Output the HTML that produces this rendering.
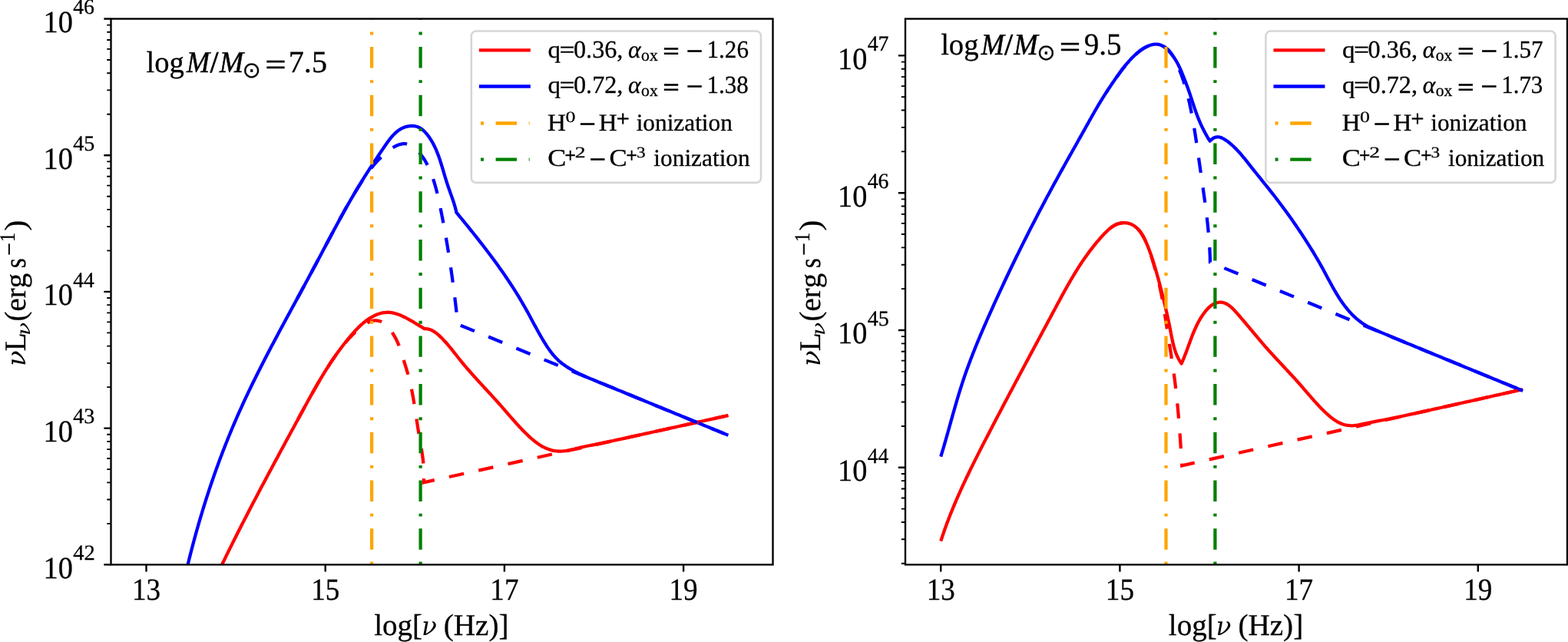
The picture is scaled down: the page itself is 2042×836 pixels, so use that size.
<!DOCTYPE html>
<html lang="en"><head><meta charset="utf-8"><title>SED models</title>
<style>
html,body{margin:0;padding:0;background:#fff;}
body{width:2042px;height:836px;overflow:hidden;}
svg{display:block;}
text{font-family:"Liberation Serif", "DejaVu Serif", serif;fill:#000;stroke:#000;stroke-width:0.3px;font-kerning:none;text-rendering:geometricPrecision;}
.it{font-style:italic;}
.nu{font-family:"DejaVu Serif","Liberation Serif",serif;font-style:italic;stroke-width:0;}
.sym{font-family:"DejaVu Sans","Liberation Sans",sans-serif;}
</style></head><body>
<svg width="2042" height="836" viewBox="0 0 2042 836">
<rect x="0" y="0" width="2042" height="836" fill="#fff"/>
<g id="panelL">
<clipPath id="clipL"><rect x="144.5" y="24.5" width="862" height="710.8"/></clipPath>
<g clip-path="url(#clipL)" fill="none" stroke-width="4.27" stroke-linejoin="round">
<path d="M282,750 L283.07,747.76 L284.14,745.51 L285.22,743.27 L286.29,741.02 L287.37,738.78 L288.46,736.54 L289.54,734.29 L290.63,732.05 L291.72,729.81 L292.82,727.57 L293.92,725.33 L295.02,723.09 L296.12,720.85 L297.22,718.61 L298.33,716.37 L299.44,714.13 L300.55,711.89 L301.67,709.65 L302.78,707.41 L303.9,705.18 L305.02,702.94 L306.15,700.7 L307.27,698.47 L308.4,696.23 L309.53,694 L310.67,691.76 L311.8,689.53 L312.94,687.3 L314.08,685.06 L315.22,682.83 L316.36,680.6 L317.5,678.37 L318.65,676.13 L319.8,673.9 L320.95,671.67 L322.1,669.44 L323.25,667.21 L324.41,664.99 L325.57,662.76 L326.73,660.53 L327.89,658.3 L329.05,656.07 L330.21,653.85 L331.38,651.62 L332.54,649.4 L333.71,647.17 L334.88,644.95 L336.05,642.72 L337.22,640.5 L338.39,638.28 L339.57,636.06 L340.74,633.83 L341.92,631.61 L343.1,629.39 L344.28,627.17 L345.46,624.95 L346.64,622.74 L347.82,620.52 L349,618.3 L350.19,616.08 L351.37,613.87 L352.56,611.65 L353.75,609.43 L354.93,607.22 L356.12,605.01 L357.31,602.79 L358.5,600.58 L359.69,598.37 L360.88,596.15 L362.07,593.94 L363.26,591.73 L364.46,589.52 L365.65,587.31 L366.84,585.1 L368.04,582.9 L369.23,580.69 L370.42,578.48 L371.62,576.27 L372.81,574.07 L374.01,571.86 L375.21,569.66 L376.4,567.46 L377.6,565.25 L378.79,563.05 L379.99,560.85 L381.18,558.65 L382.38,556.45 L383.58,554.25 L384.77,552.05 L385.97,549.85 L387.16,547.65 L388.36,545.45 L389.55,543.26 L390.75,541.06 L391.94,538.87 L393.14,536.67 L394.33,534.48 L395.52,532.29 L396.72,530.09 L397.91,527.9 L399.11,525.72 L400.31,523.53 L401.51,521.34 L402.72,519.16 L403.93,516.98 L405.14,514.8 L406.35,512.63 L407.57,510.46 L408.8,508.29 L410.03,506.12 L411.26,503.96 L412.5,501.8 L413.75,499.65 L415,497.5 L416.27,495.36 L417.54,493.21 L418.81,491.08 L420.1,488.95 L421.4,486.82 L422.7,484.7 L424.02,482.59 L425.34,480.48 L426.68,478.38 L428.02,476.28 L429.38,474.19 L430.75,472.11 L432.13,470.03 L433.53,467.96 L434.94,465.9 L436.36,463.84 L437.79,461.79 L439.24,459.75 L440.71,457.72 L442.19,455.7 L443.68,453.68 L445.19,451.68 L446.72,449.68 L448.27,447.69 L449.83,445.71 L451.41,443.74 L453.01,441.78 L454.62,439.83 L456.26,437.89 L457.91,435.96 L459.59,434.05 L461.29,432.15 L463.01,430.28 L464.76,428.44 L466.54,426.63 L468.35,424.87 L470.2,423.15 L472.08,421.48 L473.99,419.87 L475.95,418.31 L477.94,416.82 L479.98,415.41 L482.07,414.07 L484.2,412.81 L486.38,411.63 L488.61,410.56 L490.88,409.58 L493.18,408.73 L495.52,408.02 L497.89,407.45 L500.28,407.04 L502.69,406.8 L505.11,406.74 L507.54,406.88 L509.97,407.18 L512.39,407.65 L514.82,408.26 L517.24,409 L519.64,409.85 L522.03,410.81 L524.4,411.85 L526.74,412.96 L529.06,414.13 L531.36,415.35 L533.63,416.6 L535.87,417.89 L538.08,419.2 L540.27,420.51 L542.42,421.83 L544.56,423.14 L546.66,424.43 L548.73,425.69 L550.78,426.92 L552.8,428.1 L555.39,428.14 L557.84,428.52 L560.17,429.2 L562.39,430.14 L564.51,431.3 L566.55,432.65 L568.52,434.14 L570.42,435.74 L572.27,437.4 L574.08,439.1 L575.85,440.85 L577.58,442.63 L579.28,444.45 L580.95,446.3 L582.6,448.18 L584.22,450.08 L585.82,452 L587.4,453.94 L588.98,455.89 L590.54,457.86 L592.1,459.83 L593.65,461.8 L595.21,463.78 L596.77,465.76 L598.33,467.73 L599.91,469.69 L601.5,471.64 L603.1,473.58 L604.71,475.51 L606.33,477.43 L607.97,479.34 L609.61,481.25 L611.26,483.14 L612.92,485.03 L614.58,486.91 L616.25,488.79 L617.93,490.66 L619.62,492.52 L621.3,494.38 L622.99,496.23 L624.69,498.08 L626.38,499.93 L628.08,501.77 L629.78,503.61 L631.48,505.45 L633.18,507.29 L634.88,509.13 L636.57,510.97 L638.27,512.8 L639.96,514.64 L641.64,516.48 L643.33,518.32 L645,520.17 L646.67,522.01 L648.34,523.86 L650,525.72 L651.64,527.57 L653.28,529.43 L654.92,531.3 L656.54,533.17 L658.17,535.04 L659.79,536.91 L661.41,538.79 L663.03,540.66 L664.66,542.53 L666.29,544.4 L667.93,546.27 L669.57,548.13 L671.23,549.99 L672.9,551.84 L674.58,553.68 L676.28,555.52 L678,557.34 L679.74,559.16 L681.49,560.97 L683.27,562.76 L685.08,564.55 L686.91,566.32 L688.77,568.07 L690.66,569.81 L692.58,571.51 L694.54,573.17 L696.53,574.79 L698.56,576.34 L700.62,577.83 L702.73,579.24 L704.88,580.57 L707.08,581.8 L709.31,582.92 L711.58,583.94 L713.89,584.85 L716.23,585.64 L718.59,586.3 L720.97,586.84 L723.38,587.24 L725.8,587.5 L728.23,587.62 L730.67,587.6 L733.11,587.45 L735.56,587.19 L738.02,586.83 L740.48,586.39 L742.93,585.88 L745.39,585.33 L747.84,584.75 L750.3,584.14 L752.75,583.53 L755.21,582.92 L757.66,582.33 L760.11,581.77 L762.56,581.24 L765.02,580.75 L767.47,580.27 L769.92,579.8 L772.37,579.32 L774.82,578.83 L777.27,578.34 L779.72,577.85 L782.17,577.34 L784.62,576.84 L787.07,576.33 L789.52,575.82 L791.97,575.3 L794.42,574.78 L796.86,574.26 L799.31,573.74 L801.76,573.21 L804.21,572.68 L806.65,572.15 L809.1,571.62 L811.55,571.09 L813.99,570.56 L816.44,570.03 L818.88,569.49 L821.33,568.96 L823.77,568.42 L826.22,567.88 L828.66,567.34 L831.11,566.81 L833.55,566.27 L836,565.73 L838.44,565.19 L840.88,564.66 L843.33,564.12 L845.77,563.58 L848.22,563.04 L850.66,562.51 L853.1,561.97 L855.55,561.43 L857.99,560.89 L860.43,560.36 L862.88,559.82 L865.32,559.28 L867.76,558.74 L870.2,558.21 L872.65,557.67 L875.09,557.13 L877.53,556.59 L879.98,556.06 L882.42,555.52 L884.86,554.98 L887.3,554.44 L889.75,553.91 L892.19,553.37 L894.63,552.83 L897.08,552.29 L899.52,551.76 L901.96,551.22 L904.41,550.68 L906.85,550.14 L909.29,549.61 L911.74,549.07 L914.18,548.53 L916.62,547.99 L919.07,547.46 L921.51,546.92 L923.96,546.38 L926.4,545.84 L928.84,545.3 L931.29,544.77 L933.73,544.23 L936.18,543.69 L938.62,543.15 L941.07,542.61 L943.52,542.08 L945.96,541.54 L948.4,541" stroke="#ff0000" stroke-linecap="butt"/>
<path d="M237,768 L237.55,765.53 L238.09,763.06 L238.65,760.6 L239.2,758.13 L239.76,755.67 L240.33,753.21 L240.9,750.76 L241.47,748.3 L242.04,745.85 L242.62,743.4 L243.21,740.95 L243.8,738.51 L244.39,736.06 L244.98,733.62 L245.59,731.18 L246.19,728.75 L246.8,726.31 L247.41,723.88 L248.03,721.45 L248.65,719.02 L249.28,716.6 L249.91,714.17 L250.54,711.75 L251.18,709.33 L251.82,706.91 L252.47,704.5 L253.12,702.09 L253.78,699.67 L254.44,697.27 L255.1,694.86 L255.77,692.45 L256.44,690.05 L257.12,687.65 L257.81,685.25 L258.49,682.86 L259.19,680.46 L259.88,678.07 L260.58,675.68 L261.29,673.29 L262,670.9 L262.72,668.52 L263.44,666.14 L264.16,663.75 L264.89,661.38 L265.62,659 L266.36,656.62 L267.11,654.25 L267.86,651.88 L268.61,649.51 L269.37,647.14 L270.13,644.78 L270.9,642.42 L271.67,640.06 L272.45,637.7 L273.23,635.34 L274.02,632.98 L274.82,630.63 L275.61,628.28 L276.42,625.93 L277.23,623.58 L278.04,621.23 L278.86,618.89 L279.68,616.54 L280.51,614.2 L281.35,611.86 L282.19,609.53 L283.03,607.19 L283.88,604.86 L284.74,602.52 L285.6,600.19 L286.47,597.86 L287.34,595.54 L288.22,593.21 L289.1,590.89 L289.99,588.57 L290.88,586.25 L291.78,583.93 L292.68,581.61 L293.59,579.3 L294.51,576.98 L295.43,574.67 L296.36,572.36 L297.29,570.05 L298.23,567.75 L299.17,565.44 L300.12,563.14 L301.08,560.84 L302.04,558.54 L303,556.24 L303.98,553.94 L304.95,551.65 L305.94,549.35 L306.93,547.06 L307.92,544.77 L308.93,542.48 L309.93,540.19 L310.95,537.91 L311.97,535.62 L312.99,533.34 L314.02,531.06 L315.06,528.78 L316.1,526.5 L317.15,524.22 L318.2,521.94 L319.26,519.67 L320.33,517.4 L321.4,515.13 L322.47,512.86 L323.55,510.59 L324.63,508.32 L325.72,506.06 L326.82,503.79 L327.92,501.53 L329.02,499.27 L330.12,497.01 L331.24,494.75 L332.35,492.49 L333.47,490.24 L334.59,487.98 L335.72,485.73 L336.85,483.48 L337.99,481.23 L339.12,478.98 L340.26,476.73 L341.41,474.48 L342.56,472.24 L343.71,470 L344.86,467.75 L346.02,465.51 L347.18,463.27 L348.34,461.03 L349.51,458.8 L350.68,456.56 L351.85,454.32 L353.02,452.09 L354.19,449.86 L355.37,447.63 L356.55,445.4 L357.73,443.17 L358.91,440.94 L360.1,438.71 L361.29,436.49 L362.47,434.26 L363.66,432.04 L364.85,429.82 L366.05,427.6 L367.24,425.38 L368.43,423.16 L369.63,420.94 L370.82,418.73 L372.02,416.51 L373.22,414.3 L374.42,412.08 L375.62,409.87 L376.82,407.66 L378.01,405.45 L379.21,403.24 L380.41,401.04 L381.61,398.83 L382.81,396.62 L384.01,394.42 L385.21,392.22 L386.41,390.01 L387.61,387.81 L388.8,385.61 L390,383.41 L391.19,381.21 L392.39,379.01 L393.58,376.82 L394.78,374.62 L395.97,372.43 L397.16,370.23 L398.35,368.04 L399.53,365.85 L400.72,363.66 L401.9,361.47 L403.08,359.28 L404.26,357.09 L405.44,354.9 L406.62,352.72 L407.79,350.53 L408.96,348.34 L410.13,346.16 L411.3,343.98 L412.46,341.79 L413.62,339.61 L414.78,337.43 L415.94,335.25 L417.1,333.07 L418.25,330.89 L419.41,328.72 L420.56,326.54 L421.71,324.36 L422.86,322.19 L424.02,320.01 L425.17,317.84 L426.32,315.67 L427.47,313.49 L428.63,311.32 L429.78,309.15 L430.94,306.98 L432.1,304.81 L433.26,302.64 L434.42,300.47 L435.58,298.31 L436.75,296.14 L437.92,293.97 L439.09,291.81 L440.26,289.64 L441.44,287.48 L442.62,285.31 L443.81,283.15 L445,280.99 L446.19,278.83 L447.39,276.66 L448.59,274.5 L449.8,272.34 L451.02,270.18 L452.24,268.02 L453.46,265.87 L454.69,263.71 L455.93,261.55 L457.17,259.39 L458.43,257.24 L459.68,255.08 L460.95,252.92 L462.22,250.77 L463.5,248.62 L464.79,246.46 L466.08,244.31 L467.39,242.15 L468.7,240 L470.02,237.85 L471.35,235.7 L472.69,233.55 L474.04,231.4 L475.39,229.24 L476.76,227.09 L478.13,224.94 L479.51,222.79 L480.89,220.65 L482.29,218.5 L483.69,216.35 L485.09,214.2 L486.51,212.05 L487.93,209.9 L489.35,207.75 L490.78,205.61 L492.21,203.46 L493.65,201.31 L495.1,199.16 L496.54,197.01 L497.99,194.87 L499.45,192.72 L500.91,190.57 L502.38,188.43 L503.86,186.31 L505.36,184.22 L506.89,182.17 L508.45,180.18 L510.04,178.25 L511.69,176.39 L513.38,174.61 L515.14,172.94 L516.95,171.37 L518.84,169.92 L520.8,168.6 L522.84,167.42 L524.98,166.4 L527.19,165.53 L529.47,164.84 L531.79,164.34 L534.14,164.04 L536.49,163.95 L538.83,164.08 L541.14,164.44 L543.4,165.05 L545.59,165.92 L547.68,167.06 L549.68,168.46 L551.59,170.07 L553.4,171.85 L555.13,173.77 L556.76,175.77 L558.32,177.84 L559.79,179.95 L561.19,182.1 L562.52,184.29 L563.78,186.52 L564.97,188.78 L566.11,191.07 L567.19,193.39 L568.22,195.73 L569.19,198.09 L570.13,200.47 L571.02,202.86 L571.88,205.26 L572.7,207.67 L573.5,210.08 L574.27,212.49 L575.02,214.89 L575.75,217.29 L576.47,219.67 L577.18,222.05 L577.88,224.42 L578.58,226.79 L579.28,229.15 L579.99,231.51 L580.71,233.86 L581.44,236.21 L582.19,238.57 L582.96,240.92 L583.76,243.28 L584.58,245.64 L585.41,248.01 L586.26,250.37 L587.11,252.75 L587.96,255.12 L588.8,257.5 L589.62,259.89 L590.42,262.27 L591.19,264.67 L591.93,267.06 L592.63,269.47 L593.27,271.87 L593.87,274.28 L594.4,276.7 L596,278.64 L597.6,280.59 L599.2,282.53 L600.79,284.48 L602.38,286.42 L603.98,288.37 L605.57,290.32 L607.15,292.27 L608.74,294.22 L610.32,296.17 L611.9,298.12 L613.47,300.08 L615.04,302.04 L616.61,304 L618.18,305.96 L619.74,307.92 L621.3,309.89 L622.85,311.86 L624.4,313.83 L625.95,315.81 L627.49,317.78 L629.03,319.76 L630.56,321.75 L632.09,323.74 L633.61,325.73 L635.13,327.72 L636.64,329.72 L638.15,331.72 L639.65,333.73 L641.15,335.73 L642.64,337.75 L644.12,339.77 L645.6,341.79 L647.07,343.81 L648.54,345.85 L650,347.88 L651.45,349.92 L652.89,351.97 L654.33,354.02 L655.76,356.08 L657.19,358.14 L658.6,360.21 L660.01,362.28 L661.41,364.36 L662.8,366.44 L664.19,368.53 L665.56,370.63 L666.93,372.73 L668.29,374.84 L669.64,376.96 L670.98,379.08 L672.32,381.21 L673.64,383.34 L674.96,385.48 L676.26,387.63 L677.56,389.79 L678.84,391.96 L680.12,394.13 L681.38,396.31 L682.64,398.49 L683.88,400.69 L685.12,402.89 L686.34,405.1 L687.56,407.32 L688.77,409.54 L689.98,411.76 L691.18,413.99 L692.37,416.22 L693.57,418.45 L694.77,420.68 L695.96,422.9 L697.17,425.12 L698.37,427.34 L699.58,429.55 L700.8,431.75 L702.03,433.95 L703.26,436.13 L704.51,438.3 L705.77,440.47 L707.05,442.62 L708.34,444.75 L709.65,446.87 L710.97,448.97 L712.32,451.05 L713.69,453.11 L715.1,455.14 L716.54,457.15 L718.03,459.12 L719.56,461.05 L721.14,462.95 L722.78,464.8 L724.48,466.6 L726.25,468.36 L728.09,470.06 L730.01,471.71 L732,473.29 L734.04,474.83 L736.13,476.31 L738.27,477.73 L740.43,479.1 L742.61,480.42 L744.8,481.68 L747,482.9 L749.22,484.08 L751.45,485.22 L753.69,486.32 L755.94,487.39 L758.19,488.44 L760.46,489.46 L762.74,490.46 L765.02,491.44 L767.31,492.41 L769.6,493.38 L771.91,494.33 L774.21,495.29 L776.52,496.24 L778.84,497.2 L781.16,498.15 L783.48,499.11 L785.8,500.06 L788.13,501.01 L790.46,501.96 L792.79,502.91 L795.11,503.87 L797.44,504.82 L799.77,505.77 L802.09,506.73 L804.42,507.68 L806.74,508.63 L809.06,509.59 L811.39,510.54 L813.71,511.49 L816.03,512.45 L818.35,513.4 L820.67,514.35 L822.99,515.31 L825.32,516.26 L827.64,517.22 L829.96,518.17 L832.28,519.12 L834.6,520.08 L836.92,521.03 L839.24,521.98 L841.56,522.94 L843.88,523.89 L846.21,524.85 L848.53,525.8 L850.85,526.75 L853.17,527.71 L855.49,528.66 L857.82,529.61 L860.14,530.57 L862.46,531.52 L864.78,532.47 L867.11,533.43 L869.43,534.38 L871.75,535.34 L874.08,536.29 L876.4,537.24 L878.72,538.2 L881.04,539.15 L883.37,540.1 L885.69,541.06 L888.01,542.01 L890.34,542.96 L892.66,543.92 L894.98,544.87 L897.31,545.82 L899.63,546.78 L901.95,547.73 L904.27,548.68 L906.6,549.64 L908.92,550.59 L911.24,551.54 L913.57,552.5 L915.89,553.45 L918.21,554.4 L920.53,555.36 L922.86,556.31 L925.18,557.26 L927.5,558.22 L929.82,559.17 L932.15,560.12 L934.47,561.08 L936.79,562.03 L939.11,562.99 L941.43,563.94 L943.75,564.89 L946.08,565.85 L948.4,566.8" stroke="#0000ff" stroke-linecap="butt"/>
<path d="M381.18,558.65 L382.38,556.45 L383.58,554.25 L384.78,552.05 L385.98,549.85 L387.18,547.65 L388.37,545.45 L389.56,543.25 L390.76,541.05 L391.95,538.84 L393.15,536.64 L394.35,534.44 L395.54,532.24 L396.74,530.03 L397.95,527.83 L399.15,525.64 L400.36,523.44 L401.56,521.24 L402.78,519.05 L403.99,516.86 L405.21,514.67 L406.44,512.48 L407.66,510.3 L408.9,508.11 L410.13,505.94 L411.38,503.76 L412.63,501.59 L413.88,499.43 L415.15,497.26 L416.42,495.11 L417.69,492.95 L418.98,490.8 L420.28,488.66 L421.58,486.52 L422.89,484.39 L424.22,482.27 L425.55,480.14 L426.9,478.03 L428.25,475.92 L429.62,473.82 L431,471.73 L432.39,469.64 L433.8,467.56 L435.22,465.49 L436.66,463.43 L438.1,461.38 L439.57,459.33 L441.05,457.3 L442.56,455.29 L444.08,453.29 L445.62,451.3 L447.19,449.34 L448.78,447.39 L450.4,445.47 L452.04,443.57 L453.7,441.69 L455.4,439.84 L457.12,438.02 L458.88,436.22 L460.67,434.46 L462.49,432.72 L464.34,431.02 L466.23,429.35 L468.16,427.72 L470.12,426.13 L472.12,424.58 L474.16,423.08 L476.25,421.69 L478.39,420.42 L480.57,419.33 L482.81,418.45 L485.11,417.8 L487.47,417.44 L489.89,417.39 L492.31,417.66 L494.68,418.24 L496.95,419.12 L499.08,420.29 L501.09,421.71 L502.98,423.34 L504.76,425.15 L506.45,427.1 L508.05,429.15 L509.57,431.28 L511.02,433.44 L512.39,435.62 L513.7,437.83 L514.94,440.05 L516.12,442.3 L517.22,444.56 L518.26,446.84 L519.22,449.14 L520.13,451.46 L520.97,453.79 L521.77,456.13 L522.53,458.49 L523.27,460.85 L523.99,463.23 L524.7,465.62 L525.43,468.02 L526.17,470.43 L526.91,472.84 L527.67,475.26 L528.42,477.69 L529.17,480.12 L529.91,482.55 L530.62,484.99 L531.32,487.43 L531.99,489.87 L532.63,492.31 L533.25,494.75 L533.84,497.19 L534.41,499.63 L534.96,502.07 L535.48,504.52 L535.99,506.96 L536.48,509.41 L536.96,511.85 L537.42,514.3 L537.86,516.75 L538.3,519.2 L538.72,521.65 L539.13,524.1 L539.53,526.56 L539.92,529.01 L540.3,531.47 L540.68,533.92 L541.06,536.38 L541.43,538.84 L541.8,541.3 L542.17,543.76 L542.54,546.22 L542.91,548.69 L543.29,551.15 L543.67,553.62 L544.05,556.09 L544.44,558.56 L544.84,561.03 L545.24,563.5 L545.66,565.97 L546.09,568.45 L546.51,570.92 L546.94,573.4 L547.37,575.88 L547.8,578.36 L548.22,580.84 L548.64,583.32 L549.04,585.81 L549.43,588.29 L549.8,590.78 L550.16,593.27 L550.49,595.76 L550.8,598.26 L551.08,600.75 L551.33,603.25 L551.56,605.74 L551.74,608.24 L551.89,610.74 L552.01,613.25 L552.08,615.75 L552.1,618.26 L552.08,620.77 L552,623.28 L551.88,625.79 L551.7,628.3 L948.4,541" stroke="#ff0000" stroke-dasharray="19.6 19.6" stroke-dashoffset="25.48" stroke-linecap="butt" stroke-linejoin="miter"/>
<path d="M380.41,401.04 L381.61,398.83 L382.81,396.63 L384.01,394.43 L385.2,392.23 L386.4,390.03 L387.6,387.82 L388.8,385.62 L390,383.41 L391.2,381.21 L392.4,379 L393.6,376.8 L394.79,374.59 L395.99,372.39 L397.19,370.18 L398.38,367.97 L399.58,365.77 L400.77,363.56 L401.96,361.35 L403.16,359.14 L404.35,356.93 L405.54,354.72 L406.72,352.51 L407.91,350.3 L409.09,348.09 L410.28,345.88 L411.46,343.67 L412.64,341.45 L413.81,339.24 L414.99,337.03 L416.17,334.82 L417.34,332.6 L418.52,330.39 L419.69,328.17 L420.87,325.96 L422.04,323.75 L423.22,321.53 L424.39,319.32 L425.57,317.1 L426.74,314.89 L427.92,312.67 L429.1,310.45 L430.28,308.24 L431.46,306.02 L432.64,303.8 L433.82,301.59 L435.01,299.37 L436.2,297.15 L437.39,294.93 L438.58,292.72 L439.77,290.5 L440.97,288.28 L442.17,286.07 L443.38,283.85 L444.58,281.64 L445.8,279.43 L447.01,277.23 L448.23,275.03 L449.45,272.83 L450.68,270.64 L451.92,268.45 L453.15,266.27 L454.4,264.09 L455.65,261.92 L456.9,259.75 L458.16,257.6 L459.43,255.45 L460.7,253.31 L461.98,251.17 L463.26,249.05 L464.55,246.93 L465.85,244.83 L467.16,242.73 L468.47,240.65 L469.8,238.57 L471.13,236.51 L472.47,234.46 L473.82,232.42 L475.19,230.4 L476.57,228.39 L477.98,226.39 L479.41,224.41 L480.86,222.44 L482.35,220.48 L483.86,218.55 L485.41,216.62 L486.99,214.72 L488.61,212.83 L490.28,210.95 L491.98,209.1 L493.74,207.26 L495.54,205.45 L497.39,203.65 L499.3,201.87 L501.27,200.11 L503.29,198.38 L505.36,196.69 L507.47,195.08 L509.62,193.55 L511.81,192.14 L514.01,190.86 L516.23,189.74 L518.46,188.8 L520.7,188.05 L522.93,187.52 L525.15,187.24 L527.36,187.22 L529.54,187.48 L531.69,188.04 L533.8,188.87 L535.86,189.94 L537.88,191.22 L539.85,192.7 L541.76,194.34 L543.6,196.12 L545.37,198 L547.06,199.98 L548.68,202.01 L550.22,204.11 L551.69,206.27 L553.09,208.47 L554.42,210.73 L555.69,213.02 L556.9,215.35 L558.04,217.71 L559.13,220.1 L560.17,222.52 L561.15,224.95 L562.09,227.39 L562.98,229.84 L563.83,232.3 L564.64,234.76 L565.42,237.21 L566.15,239.65 L566.86,242.1 L567.54,244.53 L568.19,246.97 L568.81,249.4 L569.41,251.82 L569.99,254.25 L570.55,256.67 L571.09,259.09 L571.61,261.51 L572.13,263.92 L572.63,266.34 L573.13,268.76 L573.62,271.17 L574.1,273.59 L574.59,276.01 L575.07,278.43 L575.54,280.86 L576.02,283.28 L576.49,285.71 L576.95,288.14 L577.41,290.58 L577.87,293.02 L578.32,295.46 L578.77,297.91 L579.22,300.36 L579.66,302.82 L580.09,305.28 L580.53,307.74 L580.96,310.2 L581.38,312.67 L581.8,315.14 L582.22,317.61 L582.63,320.09 L583.04,322.57 L583.44,325.05 L583.84,327.53 L584.24,330.02 L584.63,332.51 L585.02,334.99 L585.41,337.49 L585.79,339.98 L586.16,342.47 L586.54,344.97 L586.91,347.46 L587.27,349.96 L587.63,352.46 L587.99,354.96 L588.34,357.45 L588.69,359.95 L589.04,362.45 L589.38,364.95 L589.72,367.45 L590.05,369.95 L590.38,372.45 L590.71,374.95 L591.03,377.45 L591.35,379.95 L591.67,382.45 L591.98,384.95 L592.29,387.44 L592.59,389.94 L592.89,392.43 L593.19,394.92 L593.48,397.41 L593.77,399.9 L594.05,402.39 L594.33,404.87 L594.61,407.36 L594.89,409.84 L595.16,412.31 L595.42,414.79 L595.69,417.26 L595.94,419.73 L596.2,422.2 L948.4,566.8" stroke="#0000ff" stroke-dasharray="19.6 19.6" stroke-dashoffset="26.12" stroke-linecap="butt" stroke-linejoin="miter"/>
<path d="M484.1,735.3 L484.1,24.5" stroke="#ffa500" stroke-dasharray="3.92 15.68 27.44 15.68" stroke-linecap="butt"/>
<path d="M547.6,735.3 L547.6,24.5" stroke="#008000" stroke-dasharray="3.92 15.68 27.44 15.68" stroke-linecap="butt"/>
</g>
<path d="M190.5,735.3 v9.15 M423.7,735.3 v9.15 M656.9,735.3 v9.15 M890.1,735.3 v9.15" stroke="#000" stroke-width="2.39" fill="none"/>
<path d="M144.5,735.3 h-9.15 M144.5,557.6 h-9.15 M144.5,379.9 h-9.15 M144.5,202.2 h-9.15 M144.5,24.5 h-9.15" stroke="#000" stroke-width="2.39" fill="none"/>
<path d="M144.5,681.81 h-5.23 M144.5,650.52 h-5.23 M144.5,628.31 h-5.23 M144.5,611.09 h-5.23 M144.5,597.02 h-5.23 M144.5,585.13 h-5.23 M144.5,574.82 h-5.23 M144.5,565.73 h-5.23 M144.5,504.11 h-5.23 M144.5,472.82 h-5.23 M144.5,450.61 h-5.23 M144.5,433.39 h-5.23 M144.5,419.32 h-5.23 M144.5,407.43 h-5.23 M144.5,397.12 h-5.23 M144.5,388.03 h-5.23 M144.5,326.41 h-5.23 M144.5,295.12 h-5.23 M144.5,272.91 h-5.23 M144.5,255.69 h-5.23 M144.5,241.62 h-5.23 M144.5,229.73 h-5.23 M144.5,219.42 h-5.23 M144.5,210.33 h-5.23 M144.5,148.71 h-5.23 M144.5,117.42 h-5.23 M144.5,95.21 h-5.23 M144.5,77.99 h-5.23 M144.5,63.92 h-5.23 M144.5,52.03 h-5.23 M144.5,41.72 h-5.23 M144.5,32.63 h-5.23" stroke="#000" stroke-width="1.87" fill="none"/>
<rect x="144.5" y="24.5" width="862" height="710.8" fill="none" stroke="#000" stroke-width="2.39" stroke-linejoin="miter"/>
</g>
<g id="panelR">
<clipPath id="clipR"><rect x="1179" y="24.5" width="862" height="710.8"/></clipPath>
<g clip-path="url(#clipR)" fill="none" stroke-width="4.27" stroke-linejoin="round">
<path d="M1225.2,704.7 L1225.95,702.35 L1226.72,700 L1227.5,697.66 L1228.29,695.31 L1229.09,692.97 L1229.91,690.63 L1230.73,688.3 L1231.57,685.97 L1232.42,683.63 L1233.28,681.31 L1234.16,678.98 L1235.04,676.66 L1235.93,674.33 L1236.84,672.01 L1237.75,669.7 L1238.67,667.38 L1239.61,665.07 L1240.55,662.76 L1241.5,660.45 L1242.47,658.14 L1243.44,655.84 L1244.42,653.54 L1245.41,651.24 L1246.4,648.94 L1247.41,646.64 L1248.42,644.35 L1249.44,642.06 L1250.47,639.77 L1251.5,637.48 L1252.54,635.19 L1253.59,632.91 L1254.65,630.63 L1255.71,628.35 L1256.78,626.07 L1257.85,623.79 L1258.93,621.52 L1260.02,619.24 L1261.11,616.97 L1262.21,614.7 L1263.31,612.43 L1264.41,610.17 L1265.53,607.9 L1266.64,605.64 L1267.76,603.38 L1268.88,601.12 L1270.01,598.86 L1271.14,596.6 L1272.28,594.35 L1273.41,592.09 L1274.55,589.84 L1275.7,587.59 L1276.84,585.34 L1277.99,583.09 L1279.14,580.85 L1280.29,578.6 L1281.44,576.36 L1282.6,574.12 L1283.75,571.87 L1284.91,569.64 L1286.07,567.4 L1287.23,565.16 L1288.39,562.92 L1289.55,560.69 L1290.71,558.46 L1291.87,556.22 L1293.03,553.99 L1294.19,551.76 L1295.36,549.54 L1296.52,547.31 L1297.69,545.08 L1298.85,542.86 L1300.02,540.63 L1301.18,538.41 L1302.35,536.19 L1303.52,533.97 L1304.68,531.74 L1305.85,529.53 L1307.02,527.31 L1308.19,525.09 L1309.36,522.87 L1310.53,520.66 L1311.7,518.44 L1312.87,516.23 L1314.05,514.01 L1315.22,511.8 L1316.39,509.59 L1317.56,507.38 L1318.74,505.17 L1319.91,502.96 L1321.08,500.75 L1322.26,498.54 L1323.43,496.33 L1324.61,494.13 L1325.78,491.92 L1326.96,489.71 L1328.13,487.51 L1329.31,485.3 L1330.49,483.1 L1331.66,480.9 L1332.84,478.69 L1334.02,476.49 L1335.2,474.29 L1336.37,472.08 L1337.55,469.88 L1338.73,467.68 L1339.91,465.48 L1341.08,463.28 L1342.26,461.08 L1343.44,458.88 L1344.62,456.68 L1345.8,454.48 L1346.98,452.28 L1348.16,450.08 L1349.34,447.88 L1350.52,445.68 L1351.7,443.48 L1352.87,441.28 L1354.05,439.09 L1355.23,436.89 L1356.41,434.69 L1357.59,432.49 L1358.77,430.29 L1359.95,428.09 L1361.13,425.9 L1362.31,423.7 L1363.49,421.5 L1364.67,419.3 L1365.85,417.1 L1367.03,414.9 L1368.2,412.7 L1369.38,410.5 L1370.56,408.3 L1371.74,406.1 L1372.92,403.9 L1374.1,401.7 L1375.27,399.5 L1376.45,397.3 L1377.63,395.1 L1378.82,392.9 L1380,390.71 L1381.19,388.51 L1382.38,386.32 L1383.57,384.13 L1384.77,381.94 L1385.98,379.75 L1387.19,377.57 L1388.41,375.38 L1389.63,373.21 L1390.86,371.04 L1392.1,368.87 L1393.34,366.7 L1394.6,364.54 L1395.86,362.39 L1397.14,360.24 L1398.42,358.1 L1399.72,355.96 L1401.03,353.83 L1402.35,351.7 L1403.68,349.59 L1405.02,347.48 L1406.38,345.38 L1407.75,343.28 L1409.14,341.19 L1410.54,339.12 L1411.96,337.05 L1413.39,334.99 L1414.85,332.94 L1416.31,330.9 L1417.8,328.87 L1419.31,326.85 L1420.83,324.84 L1422.37,322.84 L1423.94,320.85 L1425.52,318.87 L1427.12,316.91 L1428.75,314.95 L1430.4,313.01 L1432.07,311.09 L1433.77,309.17 L1435.48,307.27 L1437.23,305.38 L1439,303.52 L1440.8,301.7 L1442.64,299.94 L1444.53,298.27 L1446.47,296.7 L1448.47,295.25 L1450.53,293.94 L1452.65,292.79 L1454.86,291.82 L1457.14,291.06 L1459.51,290.51 L1461.93,290.19 L1464.38,290.11 L1466.83,290.28 L1469.24,290.69 L1471.59,291.36 L1473.84,292.29 L1475.98,293.46 L1478.03,294.85 L1479.96,296.43 L1481.79,298.17 L1483.5,300.06 L1485.1,302.07 L1486.58,304.17 L1487.94,306.35 L1489.2,308.59 L1490.38,310.86 L1491.49,313.17 L1492.55,315.49 L1493.56,317.81 L1494.53,320.14 L1495.47,322.46 L1496.37,324.8 L1497.25,327.14 L1498.09,329.48 L1498.91,331.82 L1499.71,334.18 L1500.49,336.54 L1501.26,338.9 L1502.01,341.27 L1502.76,343.65 L1503.49,346.04 L1504.21,348.43 L1504.92,350.83 L1505.62,353.23 L1506.31,355.64 L1507,358.05 L1507.67,360.46 L1508.34,362.88 L1509,365.3 L1509.65,367.72 L1510.3,370.15 L1510.93,372.57 L1511.56,375 L1512.19,377.43 L1512.81,379.86 L1513.42,382.29 L1514.03,384.72 L1514.64,387.15 L1515.24,389.57 L1515.83,392 L1516.42,394.43 L1517,396.86 L1517.57,399.29 L1518.14,401.73 L1518.7,404.16 L1519.26,406.6 L1519.81,409.04 L1520.35,411.48 L1520.88,413.92 L1521.41,416.37 L1521.92,418.82 L1522.43,421.27 L1522.94,423.73 L1523.43,426.19 L1523.92,428.66 L1524.39,431.13 L1524.86,433.6 L1525.34,436.07 L1525.82,438.55 L1526.31,441.01 L1526.83,443.47 L1527.38,445.92 L1527.96,448.36 L1528.58,450.78 L1529.25,453.18 L1529.98,455.56 L1530.77,457.91 L1531.63,460.24 L1532.56,462.54 L1533.58,464.81 L1534.68,467.04 L1535.88,469.24 L1537.19,471.39 L1538.6,473.5 L1539.62,471.24 L1540.6,468.96 L1541.55,466.67 L1542.48,464.37 L1543.39,462.05 L1544.28,459.73 L1545.15,457.4 L1546.02,455.06 L1546.87,452.71 L1547.73,450.36 L1548.58,448.01 L1549.44,445.65 L1550.31,443.3 L1551.19,440.95 L1552.08,438.6 L1552.99,436.26 L1553.93,433.92 L1554.89,431.6 L1555.88,429.3 L1556.9,427.01 L1557.96,424.73 L1559.06,422.48 L1560.21,420.25 L1561.4,418.04 L1562.64,415.87 L1563.94,413.72 L1565.3,411.6 L1566.72,409.52 L1568.21,407.47 L1569.77,405.46 L1571.4,403.5 L1573.12,401.62 L1574.93,399.86 L1576.85,398.25 L1578.89,396.82 L1581.05,395.62 L1583.35,394.66 L1585.77,394 L1588.22,393.67 L1590.62,393.69 L1592.92,394.06 L1595.13,394.74 L1597.27,395.71 L1599.33,396.92 L1601.32,398.34 L1603.26,399.94 L1605.14,401.68 L1606.97,403.53 L1608.77,405.46 L1610.53,407.43 L1612.27,409.41 L1613.99,411.38 L1615.69,413.34 L1617.37,415.29 L1619.03,417.24 L1620.68,419.18 L1622.31,421.11 L1623.93,423.03 L1625.54,424.95 L1627.14,426.87 L1628.74,428.77 L1630.32,430.67 L1631.91,432.57 L1633.49,434.46 L1635.06,436.35 L1636.64,438.23 L1638.22,440.11 L1639.8,441.98 L1641.39,443.85 L1642.98,445.72 L1644.58,447.58 L1646.18,449.44 L1647.8,451.3 L1649.43,453.16 L1651.08,455.01 L1652.73,456.86 L1654.4,458.71 L1656.08,460.56 L1657.77,462.4 L1659.46,464.25 L1661.17,466.1 L1662.88,467.94 L1664.6,469.79 L1666.32,471.63 L1668.04,473.48 L1669.77,475.32 L1671.5,477.17 L1673.23,479.02 L1674.96,480.87 L1676.69,482.72 L1678.41,484.57 L1680.13,486.43 L1681.85,488.29 L1683.56,490.15 L1685.26,492.01 L1686.96,493.88 L1688.65,495.75 L1690.32,497.62 L1691.99,499.5 L1693.64,501.38 L1695.29,503.27 L1696.92,505.16 L1698.55,507.05 L1700.18,508.93 L1701.8,510.82 L1703.42,512.71 L1705.05,514.59 L1706.68,516.47 L1708.31,518.34 L1709.95,520.2 L1711.61,522.06 L1713.27,523.9 L1714.95,525.74 L1716.65,527.56 L1718.36,529.37 L1720.1,531.17 L1721.86,532.95 L1723.64,534.71 L1725.45,536.46 L1727.29,538.19 L1729.16,539.9 L1731.06,541.58 L1733.01,543.21 L1735,544.78 L1737.04,546.28 L1739.14,547.7 L1741.31,549.01 L1743.54,550.21 L1745.84,551.27 L1748.21,552.2 L1750.61,552.97 L1753.04,553.56 L1755.47,553.98 L1757.91,554.23 L1760.34,554.31 L1762.79,554.23 L1765.23,553.99 L1767.68,553.6 L1770.14,553.11 L1772.59,552.56 L1775.05,552.01 L1777.51,551.49 L1779.97,550.98 L1782.43,550.49 L1784.89,550.01 L1787.36,549.54 L1789.82,549.08 L1792.28,548.62 L1794.75,548.16 L1797.21,547.7 L1799.67,547.24 L1802.13,546.77 L1804.59,546.3 L1807.04,545.82 L1809.5,545.33 L1811.96,544.84 L1814.41,544.34 L1816.86,543.83 L1819.31,543.33 L1821.76,542.81 L1824.21,542.3 L1826.66,541.78 L1829.11,541.25 L1831.56,540.73 L1834.01,540.2 L1836.45,539.66 L1838.9,539.13 L1841.35,538.59 L1843.79,538.06 L1846.24,537.52 L1848.68,536.98 L1851.13,536.44 L1853.57,535.9 L1856.02,535.36 L1858.46,534.82 L1860.91,534.28 L1863.35,533.74 L1865.8,533.2 L1868.24,532.66 L1870.69,532.11 L1873.13,531.57 L1875.58,531.03 L1878.02,530.48 L1880.47,529.94 L1882.91,529.4 L1885.35,528.85 L1887.8,528.31 L1890.24,527.76 L1892.69,527.22 L1895.13,526.67 L1897.57,526.13 L1900.02,525.58 L1902.46,525.04 L1904.9,524.49 L1907.35,523.95 L1909.79,523.4 L1912.24,522.85 L1914.68,522.31 L1917.12,521.76 L1919.57,521.21 L1922.01,520.67 L1924.45,520.12 L1926.9,519.57 L1929.34,519.03 L1931.78,518.48 L1934.23,517.93 L1936.67,517.38 L1939.11,516.84 L1941.56,516.29 L1944,515.74 L1946.45,515.2 L1948.89,514.65 L1951.33,514.1 L1953.78,513.55 L1956.22,513.01 L1958.66,512.46 L1961.11,511.91 L1963.55,511.37 L1965.99,510.82 L1968.44,510.28 L1970.88,509.73 L1973.33,509.18 L1975.77,508.64 L1978.21,508.09 L1980.66,507.55 L1983.1,507" stroke="#ff0000" stroke-linecap="butt"/>
<path d="M1225.2,594.6 L1225.95,592.13 L1226.7,589.66 L1227.44,587.2 L1228.17,584.74 L1228.89,582.28 L1229.61,579.82 L1230.32,577.37 L1231.02,574.92 L1231.73,572.47 L1232.42,570.03 L1233.12,567.59 L1233.8,565.15 L1234.49,562.72 L1235.17,560.29 L1235.85,557.86 L1236.53,555.44 L1237.21,553.01 L1237.89,550.59 L1238.56,548.18 L1239.24,545.76 L1239.92,543.35 L1240.59,540.94 L1241.27,538.54 L1241.95,536.14 L1242.64,533.74 L1243.32,531.34 L1244.01,528.94 L1244.7,526.55 L1245.4,524.16 L1246.1,521.77 L1246.8,519.39 L1247.51,517.01 L1248.23,514.63 L1248.95,512.25 L1249.68,509.88 L1250.41,507.51 L1251.16,505.14 L1251.91,502.77 L1252.67,500.41 L1253.44,498.05 L1254.21,495.69 L1255,493.33 L1255.8,490.97 L1256.61,488.62 L1257.42,486.27 L1258.25,483.93 L1259.09,481.58 L1259.93,479.24 L1260.78,476.9 L1261.65,474.56 L1262.52,472.22 L1263.4,469.89 L1264.28,467.55 L1265.18,465.22 L1266.08,462.9 L1266.99,460.57 L1267.91,458.25 L1268.83,455.93 L1269.76,453.61 L1270.7,451.29 L1271.64,448.97 L1272.59,446.66 L1273.54,444.35 L1274.5,442.04 L1275.47,439.73 L1276.44,437.42 L1277.41,435.12 L1278.39,432.82 L1279.38,430.52 L1280.37,428.22 L1281.36,425.92 L1282.36,423.63 L1283.36,421.33 L1284.37,419.04 L1285.37,416.75 L1286.38,414.47 L1287.4,412.18 L1288.41,409.89 L1289.43,407.61 L1290.45,405.33 L1291.48,403.05 L1292.5,400.77 L1293.53,398.5 L1294.56,396.22 L1295.59,393.95 L1296.63,391.67 L1297.66,389.4 L1298.7,387.13 L1299.75,384.87 L1300.79,382.6 L1301.84,380.34 L1302.88,378.07 L1303.93,375.81 L1304.99,373.55 L1306.04,371.29 L1307.1,369.03 L1308.16,366.77 L1309.22,364.52 L1310.29,362.26 L1311.36,360.01 L1312.43,357.76 L1313.5,355.51 L1314.57,353.26 L1315.65,351.01 L1316.73,348.76 L1317.81,346.52 L1318.9,344.27 L1319.98,342.03 L1321.07,339.78 L1322.17,337.54 L1323.26,335.3 L1324.36,333.06 L1325.46,330.82 L1326.56,328.58 L1327.66,326.34 L1328.77,324.11 L1329.88,321.87 L1330.99,319.64 L1332.11,317.4 L1333.22,315.17 L1334.34,312.94 L1335.46,310.71 L1336.59,308.48 L1337.72,306.25 L1338.85,304.02 L1339.98,301.79 L1341.11,299.56 L1342.25,297.33 L1343.39,295.11 L1344.53,292.88 L1345.68,290.66 L1346.83,288.43 L1347.98,286.21 L1349.13,283.98 L1350.29,281.76 L1351.45,279.54 L1352.61,277.31 L1353.77,275.09 L1354.94,272.87 L1356.11,270.65 L1357.28,268.43 L1358.45,266.21 L1359.63,263.99 L1360.81,261.77 L1361.99,259.55 L1363.18,257.33 L1364.37,255.11 L1365.56,252.89 L1366.75,250.68 L1367.95,248.46 L1369.15,246.24 L1370.35,244.02 L1371.56,241.81 L1372.77,239.59 L1373.98,237.37 L1375.19,235.15 L1376.41,232.94 L1377.62,230.72 L1378.85,228.5 L1380.07,226.29 L1381.3,224.07 L1382.53,221.85 L1383.76,219.64 L1385,217.42 L1386.23,215.2 L1387.47,212.99 L1388.71,210.77 L1389.96,208.56 L1391.2,206.34 L1392.44,204.13 L1393.69,201.92 L1394.93,199.71 L1396.18,197.5 L1397.42,195.29 L1398.66,193.08 L1399.91,190.88 L1401.15,188.67 L1402.39,186.47 L1403.63,184.27 L1404.87,182.07 L1406.1,179.87 L1407.34,177.67 L1408.57,175.48 L1409.8,173.29 L1411.02,171.1 L1412.25,168.91 L1413.47,166.73 L1414.68,164.54 L1415.89,162.37 L1417.1,160.19 L1418.31,158.02 L1419.53,155.85 L1420.74,153.68 L1421.95,151.51 L1423.17,149.35 L1424.4,147.19 L1425.63,145.04 L1426.88,142.89 L1428.13,140.74 L1429.39,138.6 L1430.66,136.46 L1431.95,134.32 L1433.24,132.19 L1434.55,130.06 L1435.86,127.94 L1437.19,125.82 L1438.53,123.71 L1439.88,121.6 L1441.24,119.49 L1442.61,117.39 L1443.99,115.3 L1445.38,113.21 L1446.78,111.12 L1448.19,109.04 L1449.61,106.96 L1451.04,104.89 L1452.48,102.83 L1453.93,100.77 L1455.39,98.72 L1456.86,96.67 L1458.34,94.63 L1459.84,92.6 L1461.35,90.59 L1462.89,88.59 L1464.44,86.6 L1466.02,84.64 L1467.63,82.71 L1469.27,80.8 L1470.94,78.92 L1472.64,77.07 L1474.38,75.26 L1476.17,73.48 L1477.99,71.75 L1479.86,70.05 L1481.78,68.41 L1483.75,66.82 L1485.78,65.3 L1487.86,63.86 L1490,62.52 L1492.2,61.3 L1494.46,60.21 L1496.79,59.27 L1499.17,58.5 L1501.58,57.94 L1504,57.63 L1506.41,57.59 L1508.79,57.88 L1511.12,58.52 L1513.38,59.51 L1515.56,60.8 L1517.65,62.34 L1519.65,64.06 L1521.55,65.9 L1523.35,67.81 L1525.03,69.75 L1526.62,71.74 L1528.11,73.75 L1529.52,75.8 L1530.84,77.88 L1532.1,79.99 L1533.29,82.13 L1534.42,84.29 L1535.5,86.48 L1536.54,88.7 L1537.55,90.94 L1538.52,93.19 L1539.48,95.47 L1540.42,97.77 L1541.35,100.09 L1542.27,102.42 L1543.19,104.77 L1544.1,107.13 L1544.99,109.5 L1545.88,111.89 L1546.75,114.28 L1547.6,116.68 L1548.45,119.09 L1549.27,121.5 L1550.09,123.92 L1550.89,126.34 L1551.69,128.76 L1552.48,131.18 L1553.28,133.6 L1554.07,136.02 L1554.87,138.43 L1555.69,140.84 L1556.51,143.24 L1557.35,145.63 L1558.22,148.01 L1559.1,150.38 L1560.01,152.74 L1560.96,155.09 L1561.93,157.42 L1562.93,159.73 L1563.95,162.03 L1565.01,164.3 L1566.09,166.56 L1567.2,168.79 L1568.33,171 L1569.48,173.19 L1570.66,175.35 L1571.87,177.48 L1573.09,179.58 L1574.33,181.66 L1575.6,183.7 L1578.15,181.26 L1580.63,179.61 L1583.04,178.66 L1585.38,178.32 L1587.66,178.49 L1589.87,179.08 L1592.03,180 L1594.12,181.16 L1596.16,182.45 L1598.15,183.82 L1600.1,185.27 L1601.99,186.78 L1603.85,188.34 L1605.66,189.97 L1607.44,191.65 L1609.18,193.37 L1610.9,195.14 L1612.59,196.96 L1614.25,198.8 L1615.89,200.68 L1617.51,202.59 L1619.11,204.52 L1620.71,206.47 L1622.29,208.44 L1623.87,210.41 L1625.44,212.4 L1627.01,214.38 L1628.58,216.37 L1630.16,218.35 L1631.74,220.33 L1633.32,222.31 L1634.9,224.29 L1636.49,226.26 L1638.07,228.23 L1639.66,230.2 L1641.24,232.16 L1642.83,234.13 L1644.41,236.09 L1645.99,238.06 L1647.57,240.02 L1649.14,241.99 L1650.72,243.95 L1652.28,245.92 L1653.85,247.88 L1655.4,249.85 L1656.95,251.82 L1658.5,253.79 L1660.04,255.76 L1661.57,257.74 L1663.09,259.72 L1664.61,261.7 L1666.12,263.68 L1667.63,265.67 L1669.12,267.66 L1670.61,269.66 L1672.1,271.66 L1673.57,273.67 L1675.04,275.68 L1676.5,277.7 L1677.96,279.72 L1679.4,281.75 L1680.85,283.78 L1682.28,285.82 L1683.71,287.86 L1685.13,289.91 L1686.55,291.96 L1687.96,294.02 L1689.36,296.09 L1690.76,298.16 L1692.15,300.23 L1693.54,302.31 L1694.92,304.4 L1696.3,306.49 L1697.67,308.59 L1699.04,310.69 L1700.4,312.8 L1701.76,314.92 L1703.11,317.04 L1704.46,319.16 L1705.8,321.3 L1707.13,323.43 L1708.45,325.58 L1709.77,327.73 L1711.08,329.88 L1712.38,332.05 L1713.67,334.22 L1714.95,336.39 L1716.23,338.57 L1717.49,340.76 L1718.74,342.95 L1719.98,345.15 L1721.21,347.35 L1722.43,349.56 L1723.64,351.78 L1724.84,354 L1726.04,356.23 L1727.23,358.45 L1728.42,360.67 L1729.6,362.89 L1730.79,365.11 L1731.99,367.33 L1733.19,369.54 L1734.39,371.74 L1735.61,373.93 L1736.84,376.11 L1738.08,378.28 L1739.34,380.43 L1740.62,382.57 L1741.92,384.7 L1743.24,386.8 L1744.58,388.89 L1745.95,390.96 L1747.35,393 L1748.77,395.03 L1750.23,397.02 L1751.73,399 L1753.26,400.94 L1754.83,402.85 L1756.44,404.74 L1758.09,406.59 L1759.78,408.41 L1761.52,410.19 L1763.31,411.94 L1765.15,413.65 L1767.05,415.32 L1768.99,416.95 L1771,418.54 L1773.05,420.07 L1775.16,421.54 L1777.3,422.93 L1779.49,424.22 L1781.7,425.4 L1783.94,426.49 L1786.2,427.52 L1788.47,428.51 L1790.75,429.5 L1793.04,430.48 L1795.33,431.46 L1797.64,432.43 L1799.94,433.41 L1802.26,434.38 L1804.57,435.36 L1806.89,436.33 L1809.21,437.29 L1811.53,438.26 L1813.85,439.22 L1816.17,440.19 L1818.49,441.15 L1820.8,442.11 L1823.12,443.07 L1825.44,444.03 L1827.76,444.99 L1830.07,445.95 L1832.39,446.91 L1834.71,447.87 L1837.02,448.82 L1839.34,449.78 L1841.66,450.73 L1843.97,451.69 L1846.29,452.65 L1848.61,453.6 L1850.92,454.56 L1853.24,455.51 L1855.56,456.47 L1857.87,457.42 L1860.19,458.38 L1862.51,459.33 L1864.83,460.28 L1867.15,461.24 L1869.46,462.19 L1871.78,463.15 L1874.1,464.1 L1876.42,465.05 L1878.74,466.01 L1881.06,466.96 L1883.37,467.92 L1885.69,468.87 L1888.01,469.82 L1890.33,470.78 L1892.65,471.73 L1894.97,472.68 L1897.29,473.64 L1899.61,474.59 L1901.93,475.54 L1904.25,476.5 L1906.57,477.45 L1908.89,478.4 L1911.21,479.36 L1913.53,480.31 L1915.84,481.26 L1918.16,482.22 L1920.48,483.17 L1922.8,484.12 L1925.12,485.07 L1927.44,486.03 L1929.76,486.98 L1932.08,487.93 L1934.4,488.89 L1936.72,489.84 L1939.04,490.79 L1941.36,491.74 L1943.68,492.7 L1946,493.65 L1948.32,494.6 L1950.64,495.56 L1952.96,496.51 L1955.28,497.46 L1957.6,498.42 L1959.91,499.37 L1962.23,500.32 L1964.55,501.27 L1966.87,502.23 L1969.19,503.18 L1971.51,504.13 L1973.83,505.09 L1976.14,506.04 L1978.46,506.99 L1980.78,507.95 L1983.1,508.9" stroke="#0000ff" stroke-linecap="butt"/>
<path d="M1440.8,301.7 L1442.56,299.95 L1444.42,298.27 L1446.37,296.69 L1448.42,295.22 L1450.56,293.9 L1452.79,292.74 L1455.1,291.76 L1457.49,290.99 L1459.94,290.44 L1462.42,290.15 L1464.92,290.12 L1467.41,290.36 L1469.86,290.87 L1472.24,291.65 L1474.53,292.67 L1476.71,293.92 L1478.75,295.38 L1480.65,297.01 L1482.42,298.79 L1484.06,300.7 L1485.57,302.7 L1486.97,304.79 L1488.27,306.94 L1489.49,309.14 L1490.64,311.38 L1491.73,313.63 L1492.76,315.91 L1493.75,318.21 L1494.69,320.52 L1495.59,322.85 L1496.46,325.2 L1497.29,327.55 L1498.09,329.92 L1498.87,332.29 L1499.63,334.67 L1500.37,337.06 L1501.1,339.45 L1501.82,341.84 L1502.53,344.24 L1503.23,346.64 L1503.93,349.04 L1504.61,351.45 L1505.29,353.86 L1505.95,356.28 L1506.61,358.7 L1507.25,361.13 L1507.88,363.56 L1508.49,365.99 L1509.09,368.43 L1509.68,370.87 L1510.25,373.31 L1510.81,375.76 L1511.35,378.2 L1511.87,380.65 L1512.37,383.1 L1512.86,385.55 L1513.33,388.01 L1513.78,390.46 L1514.22,392.91 L1514.65,395.37 L1515.07,397.82 L1515.48,400.28 L1515.88,402.74 L1516.27,405.2 L1516.66,407.66 L1517.04,410.12 L1517.42,412.59 L1517.8,415.05 L1518.18,417.51 L1518.55,419.98 L1518.93,422.44 L1519.31,424.91 L1519.69,427.38 L1520.07,429.85 L1520.45,432.32 L1520.84,434.79 L1521.23,437.26 L1521.62,439.73 L1522.01,442.2 L1522.4,444.68 L1522.79,447.15 L1523.18,449.63 L1523.57,452.1 L1523.96,454.58 L1524.35,457.06 L1524.74,459.53 L1525.12,462.01 L1525.5,464.49 L1525.88,466.97 L1526.26,469.45 L1526.63,471.93 L1527,474.41 L1527.37,476.9 L1527.72,479.38 L1528.08,481.86 L1528.43,484.34 L1528.77,486.83 L1529.11,489.31 L1529.44,491.8 L1529.76,494.28 L1530.07,496.77 L1530.38,499.25 L1530.69,501.74 L1530.98,504.23 L1531.27,506.71 L1531.55,509.2 L1531.83,511.69 L1532.1,514.18 L1532.37,516.67 L1532.63,519.15 L1532.88,521.64 L1533.13,524.13 L1533.37,526.62 L1533.61,529.11 L1533.84,531.6 L1534.07,534.09 L1534.3,536.58 L1534.52,539.07 L1534.73,541.56 L1534.94,544.05 L1535.15,546.54 L1535.35,549.03 L1535.55,551.52 L1535.74,554.01 L1535.93,556.5 L1536.12,559 L1536.3,561.49 L1536.49,563.98 L1536.66,566.47 L1536.84,568.96 L1537.01,571.45 L1537.18,573.94 L1537.35,576.43 L1537.51,578.92 L1537.67,581.41 L1537.83,583.9 L1537.99,586.39 L1538.15,588.88 L1538.3,591.37 L1538.45,593.86 L1538.61,596.35 L1538.76,598.84 L1538.9,601.32 L1539.05,603.81 L1539.2,606.3 L1983.1,507" stroke="#ff0000" stroke-dasharray="19.6 19.6" stroke-dashoffset="31.93" stroke-linecap="butt" stroke-linejoin="miter"/>
<path d="M1441.24,119.49 L1442.61,117.41 L1443.99,115.32 L1445.38,113.23 L1446.78,111.15 L1448.19,109.07 L1449.6,106.99 L1451.03,104.91 L1452.46,102.84 L1453.9,100.78 L1455.35,98.73 L1456.82,96.69 L1458.3,94.66 L1459.79,92.65 L1461.3,90.65 L1462.83,88.66 L1464.38,86.7 L1465.96,84.75 L1467.56,82.82 L1469.19,80.92 L1470.85,79.03 L1472.55,77.18 L1474.28,75.36 L1476.05,73.58 L1477.86,71.84 L1479.72,70.15 L1481.62,68.52 L1483.58,66.95 L1485.59,65.44 L1487.65,64.01 L1489.78,62.67 L1491.96,61.43 L1494.22,60.32 L1496.54,59.34 L1498.94,58.54 L1501.4,57.95 L1503.89,57.64 L1506.39,57.65 L1508.88,57.97 L1511.31,58.59 L1513.65,59.48 L1515.88,60.62 L1518.01,62 L1520.01,63.58 L1521.88,65.36 L1523.61,67.3 L1525.19,69.38 L1526.65,71.56 L1528,73.8 L1529.26,76.06 L1530.43,78.33 L1531.53,80.61 L1532.58,82.9 L1533.58,85.2 L1534.56,87.5 L1535.51,89.81 L1536.44,92.13 L1537.34,94.46 L1538.21,96.79 L1539.06,99.13 L1539.89,101.48 L1540.69,103.84 L1541.47,106.2 L1542.22,108.57 L1542.96,110.95 L1543.67,113.33 L1544.36,115.73 L1545.03,118.12 L1545.68,120.53 L1546.32,122.94 L1546.93,125.35 L1547.53,127.77 L1548.11,130.2 L1548.67,132.63 L1549.22,135.07 L1549.76,137.51 L1550.28,139.96 L1550.79,142.41 L1551.28,144.86 L1551.76,147.32 L1552.23,149.79 L1552.69,152.25 L1553.14,154.72 L1553.58,157.2 L1554.02,159.67 L1554.44,162.15 L1554.86,164.64 L1555.27,167.12 L1555.67,169.61 L1556.07,172.1 L1556.46,174.59 L1556.85,177.08 L1557.23,179.58 L1557.61,182.08 L1557.99,184.57 L1558.36,187.07 L1558.73,189.57 L1559.1,192.07 L1559.46,194.57 L1559.82,197.07 L1560.18,199.57 L1560.54,202.08 L1560.89,204.58 L1561.25,207.08 L1561.6,209.57 L1561.96,212.07 L1562.31,214.57 L1562.66,217.07 L1563.02,219.56 L1563.37,222.05 L1563.73,224.54 L1564.08,227.03 L1564.44,229.52 L1564.8,232.01 L1565.16,234.49 L1565.51,236.97 L1565.87,239.45 L1566.22,241.94 L1566.58,244.41 L1566.93,246.89 L1567.28,249.37 L1567.63,251.85 L1567.97,254.33 L1568.32,256.8 L1568.66,259.28 L1568.99,261.75 L1569.33,264.23 L1569.65,266.7 L1569.98,269.18 L1570.3,271.66 L1570.61,274.13 L1570.92,276.61 L1571.22,279.09 L1571.52,281.57 L1571.81,284.05 L1572.09,286.53 L1572.37,289.01 L1572.64,291.49 L1572.9,293.98 L1573.15,296.46 L1573.4,298.95 L1573.63,301.44 L1573.86,303.93 L1574.08,306.42 L1574.29,308.92 L1574.49,311.42 L1574.68,313.92 L1574.86,316.42 L1575.03,318.92 L1575.18,321.43 L1575.33,323.94 L1575.46,326.45 L1575.58,328.97 L1575.69,331.49 L1575.79,334.01 L1575.87,336.54 L1575.94,339.07 L1576,341.6 L1983.1,508.9" stroke="#0000ff" stroke-dasharray="19.6 19.6" stroke-dashoffset="16.83" stroke-linecap="butt" stroke-linejoin="miter"/>
<path d="M1518.5,735.3 L1518.5,24.5" stroke="#ffa500" stroke-dasharray="3.92 15.68 27.44 15.68" stroke-linecap="butt"/>
<path d="M1582.4,735.3 L1582.4,24.5" stroke="#008000" stroke-dasharray="3.92 15.68 27.44 15.68" stroke-linecap="butt"/>
</g>
<path d="M1225.2,735.3 v9.15 M1458.4,735.3 v9.15 M1691.6,735.3 v9.15 M1924.8,735.3 v9.15" stroke="#000" stroke-width="2.39" fill="none"/>
<path d="M1179,608.8 h-9.15 M1179,430 h-9.15 M1179,251.2 h-9.15 M1179,72.4 h-9.15" stroke="#000" stroke-width="2.39" fill="none"/>
<path d="M1179,733.78 h-5.23 M1179,702.29 h-5.23 M1179,679.95 h-5.23 M1179,662.62 h-5.23 M1179,648.47 h-5.23 M1179,636.5 h-5.23 M1179,626.13 h-5.23 M1179,616.98 h-5.23 M1179,554.98 h-5.23 M1179,523.49 h-5.23 M1179,501.15 h-5.23 M1179,483.82 h-5.23 M1179,469.67 h-5.23 M1179,457.7 h-5.23 M1179,447.33 h-5.23 M1179,438.18 h-5.23 M1179,376.18 h-5.23 M1179,344.69 h-5.23 M1179,322.35 h-5.23 M1179,305.02 h-5.23 M1179,290.87 h-5.23 M1179,278.9 h-5.23 M1179,268.53 h-5.23 M1179,259.38 h-5.23 M1179,197.38 h-5.23 M1179,165.89 h-5.23 M1179,143.55 h-5.23 M1179,126.22 h-5.23 M1179,112.07 h-5.23 M1179,100.1 h-5.23 M1179,89.73 h-5.23 M1179,80.58 h-5.23" stroke="#000" stroke-width="1.87" fill="none"/>
<rect x="1179" y="24.5" width="862" height="710.8" fill="none" stroke="#000" stroke-width="2.39" stroke-linejoin="miter"/>
</g>
<g transform="translate(32.9,474.6) rotate(-90)">
<text transform="translate(-2.4,0) scale(0.9920,1)" font-size="34.14" class="nu">ν</text>
<text transform="translate(17.27,0) scale(0.9971,1.0000)" font-size="39.2">L</text>
<text transform="translate(37.49,6.3) scale(1.1851,1)" font-size="23.89" class="nu">ν</text>
<text transform="translate(56.19,0) scale(0.9913,1.0000)" font-size="39.2">(erg</text>
<text transform="translate(125.32,0) scale(0.8586,1.0000)" font-size="39.2">s</text>
<text transform="translate(142.03,-11.8) scale(1.0355,1.0000)" font-size="27.44" style="stroke-width:0.8px">−</text>
<text transform="translate(159.6,-13.8) scale(0.8697,1.0250)" font-size="27.44">1</text>
<text transform="translate(174.16,0) scale(1.0629,1.0000)" font-size="39.2">)</text>
</g>
<g transform="translate(1067.5,474.6) rotate(-90)">
<text transform="translate(-2.4,0) scale(0.9920,1)" font-size="34.14" class="nu">ν</text>
<text transform="translate(17.27,0) scale(0.9971,1.0000)" font-size="39.2">L</text>
<text transform="translate(37.49,6.3) scale(1.1851,1)" font-size="23.89" class="nu">ν</text>
<text transform="translate(56.19,0) scale(0.9913,1.0000)" font-size="39.2">(erg</text>
<text transform="translate(125.32,0) scale(0.8586,1.0000)" font-size="39.2">s</text>
<text transform="translate(142.03,-11.8) scale(1.0355,1.0000)" font-size="27.44" style="stroke-width:0.8px">−</text>
<text transform="translate(159.6,-13.8) scale(0.8697,1.0250)" font-size="27.44">1</text>
<text transform="translate(174.16,0) scale(1.0629,1.0000)" font-size="39.2">)</text>
</g>
<text transform="translate(487.22,827.1) scale(0.9961,1.0000)" font-size="39.2">log[</text>
<text transform="translate(548.88,827.1) scale(0.9572,1)" font-size="34.14" class="nu">ν</text>
<text transform="translate(577.78,827.1) scale(0.9997,1.0000)" font-size="39.2">(Hz)]</text>
<text transform="translate(1521.82,827.1) scale(0.9961,1.0000)" font-size="39.2">log[</text>
<text transform="translate(1583.48,827.1) scale(0.9572,1)" font-size="34.14" class="nu">ν</text>
<text transform="translate(1612.38,827.1) scale(0.9997,1.0000)" font-size="39.2">(Hz)]</text>
<text transform="translate(190.53,93.75) scale(0.9865,1.0000)" font-size="39.2">log</text>
<text transform="translate(243.12,93.75) scale(0.9224,1.0000)" font-size="39.2" class="it" style="stroke-width:0.5px">M</text>
<text transform="translate(273.69,93.75) scale(0.9743,1.0000)" font-size="39.2" style="stroke-width:0.9px">/</text>
<text transform="translate(285.64,93.75) scale(0.9625,1.0000)" font-size="39.2" class="it" style="stroke-width:0.5px">M</text>
<text x="315.56" y="100.91" font-size="28.96" class="sym">⊙</text>
<text transform="translate(345.42,96.9) scale(1.2177,1.0000)" font-size="39.2" style="stroke-width:0.9px">=</text>
<text transform="translate(375.75,93.75) scale(1.0250,1.0250)" font-size="39.2">7.5</text>
<text transform="translate(1225.13,70.95) scale(0.9865,1.0000)" font-size="39.2">log</text>
<text transform="translate(1277.72,70.95) scale(0.9224,1.0000)" font-size="39.2" class="it" style="stroke-width:0.5px">M</text>
<text transform="translate(1308.29,70.95) scale(0.9743,1.0000)" font-size="39.2" style="stroke-width:0.9px">/</text>
<text transform="translate(1320.24,70.95) scale(0.9625,1.0000)" font-size="39.2" class="it" style="stroke-width:0.5px">M</text>
<text x="1350.16" y="78.11" font-size="28.96" class="sym">⊙</text>
<text transform="translate(1380.02,74.1) scale(1.2177,1.0000)" font-size="39.2" style="stroke-width:0.9px">=</text>
<text transform="translate(1411.74,70.95) scale(0.9957,1.0250)" font-size="39.2">9.5</text>
<rect x="613.8" y="40.55" width="377.2" height="197.35" rx="6.27" ry="6.27" fill="#fff" fill-opacity="0.8" stroke="#ccc" stroke-opacity="0.8" stroke-width="2.61"/>
<g fill="none" stroke-width="4.27">
<path d="M626,65.4 H688.71" stroke="#ff0000" stroke-linecap="square"/>
<path d="M626,112.5 H688.71" stroke="#0000ff" stroke-linecap="square"/>
<path d="M626,160.5 H689.61" stroke="#ffa500" stroke-dasharray="3.92 15.68 27.44 15.68"/>
<path d="M626,207.6 H689.61" stroke="#008000" stroke-dasharray="3.92 15.68 27.44 15.68"/>
</g>
<text transform="translate(713.51,74.5) scale(1.0516,1.0000)" font-size="31.36">q</text>
<text transform="translate(728.42,74.5) scale(1.1377,1.0000)" font-size="31.36" style="stroke-width:0.3px">=</text>
<text transform="translate(746.97,74.5) scale(1.0278,1.0250)" font-size="31.36">0.36,</text>
<text transform="translate(818.06,74.5) scale(1.0096,1.0000)" font-size="31.36" class="it">α</text>
<text transform="translate(835.07,78.5) scale(0.9882,1.0000)" font-size="21.95">ox</text>
<text transform="translate(863.54,77.2) scale(1.1864,1.0000)" font-size="31.36" style="stroke-width:0.9px">=</text>
<text transform="translate(894.03,76.6) scale(1.1932,1.0000)" font-size="31.36" style="stroke-width:0.9px">−</text>
<text transform="translate(920.57,74.5) scale(0.9906,1.0250)" font-size="31.36">1.26</text>
<text transform="translate(713.51,121.2) scale(1.0516,1.0000)" font-size="31.36">q</text>
<text transform="translate(728.42,121.2) scale(1.1377,1.0000)" font-size="31.36" style="stroke-width:0.3px">=</text>
<text transform="translate(746.97,121.2) scale(1.0278,1.0250)" font-size="31.36">0.72,</text>
<text transform="translate(818.06,121.2) scale(1.0096,1.0000)" font-size="31.36" class="it">α</text>
<text transform="translate(835.07,125.2) scale(0.9882,1.0000)" font-size="21.95">ox</text>
<text transform="translate(863.54,123.9) scale(1.1864,1.0000)" font-size="31.36" style="stroke-width:0.9px">=</text>
<text transform="translate(894.03,123.3) scale(1.1932,1.0000)" font-size="31.36" style="stroke-width:0.9px">−</text>
<text transform="translate(920.58,121.2) scale(0.9858,1.0250)" font-size="31.36">1.38</text>
<text transform="translate(713.05,169.5) scale(1.0566,1.0000)" font-size="31.36">H</text>
<text transform="translate(736.51,158.5) scale(1.1825,0.9200)" font-size="21.95">0</text>
<text transform="translate(754.43,171.6) scale(1.1932,1.0000)" font-size="31.36" style="stroke-width:0.9px">−</text>
<text transform="translate(779.85,169.5) scale(1.0566,1.0000)" font-size="31.36">H</text>
<text transform="translate(802.8,163.6) scale(1.3707,1.3000)" font-size="21.95" style="stroke-width:0.5px">+</text>
<text transform="translate(828.64,169.5) scale(0.9987,1.0000)" font-size="31.36">ionization</text>
<text transform="translate(713.22,216.2) scale(1.1510,1.0000)" font-size="31.36">C</text>
<text transform="translate(735.44,210.6) scale(1.1553,1.2000)" font-size="21.95" style="stroke-width:0.5px">+</text>
<text transform="translate(748.68,204.8) scale(1.2615,0.9200)" font-size="21.95">2</text>
<text transform="translate(767.63,218.3) scale(1.1932,1.0000)" font-size="31.36" style="stroke-width:0.9px">−</text>
<text transform="translate(793.38,216.2) scale(1.1063,1.0000)" font-size="31.36">C</text>
<text transform="translate(815.55,210.6) scale(1.1455,1.2000)" font-size="21.95" style="stroke-width:0.5px">+</text>
<text transform="translate(828.89,204.8) scale(1.0588,0.9200)" font-size="21.95">3</text>
<text transform="translate(851.34,216.2) scale(0.9995,1.0000)" font-size="31.36">ionization</text>
<rect x="1648.4" y="40.55" width="377.2" height="197.35" rx="6.27" ry="6.27" fill="#fff" fill-opacity="0.8" stroke="#ccc" stroke-opacity="0.8" stroke-width="2.61"/>
<g fill="none" stroke-width="4.27">
<path d="M1660.6,65.4 H1723.31" stroke="#ff0000" stroke-linecap="square"/>
<path d="M1660.6,112.5 H1723.31" stroke="#0000ff" stroke-linecap="square"/>
<path d="M1660.6,160.5 H1723.31" stroke="#ffa500" stroke-dasharray="3.92 15.68 27.44 15.68"/>
<path d="M1660.6,207.6 H1723.31" stroke="#008000" stroke-dasharray="3.92 15.68 27.44 15.68"/>
</g>
<text transform="translate(1748.11,74.5) scale(1.0516,1.0000)" font-size="31.36">q</text>
<text transform="translate(1763.02,74.5) scale(1.1377,1.0000)" font-size="31.36" style="stroke-width:0.3px">=</text>
<text transform="translate(1781.57,74.5) scale(1.0278,1.0250)" font-size="31.36">0.36,</text>
<text transform="translate(1852.66,74.5) scale(1.0096,1.0000)" font-size="31.36" class="it">α</text>
<text transform="translate(1869.67,78.5) scale(0.9882,1.0000)" font-size="21.95">ox</text>
<text transform="translate(1898.14,77.2) scale(1.1864,1.0000)" font-size="31.36" style="stroke-width:0.9px">=</text>
<text transform="translate(1928.63,76.6) scale(1.1932,1.0000)" font-size="31.36" style="stroke-width:0.9px">−</text>
<text transform="translate(1955.17,74.5) scale(0.9900,1.0250)" font-size="31.36">1.57</text>
<text transform="translate(1748.11,121.2) scale(1.0516,1.0000)" font-size="31.36">q</text>
<text transform="translate(1763.02,121.2) scale(1.1377,1.0000)" font-size="31.36" style="stroke-width:0.3px">=</text>
<text transform="translate(1781.57,121.2) scale(1.0278,1.0250)" font-size="31.36">0.72,</text>
<text transform="translate(1852.66,121.2) scale(1.0096,1.0000)" font-size="31.36" class="it">α</text>
<text transform="translate(1869.67,125.2) scale(0.9882,1.0000)" font-size="21.95">ox</text>
<text transform="translate(1898.14,123.9) scale(1.1864,1.0000)" font-size="31.36" style="stroke-width:0.9px">=</text>
<text transform="translate(1928.63,123.3) scale(1.1932,1.0000)" font-size="31.36" style="stroke-width:0.9px">−</text>
<text transform="translate(1955.18,121.2) scale(0.9864,1.0250)" font-size="31.36">1.73</text>
<text transform="translate(1747.65,169.5) scale(1.0566,1.0000)" font-size="31.36">H</text>
<text transform="translate(1771.11,158.5) scale(1.1825,0.9200)" font-size="21.95">0</text>
<text transform="translate(1789.03,171.6) scale(1.1932,1.0000)" font-size="31.36" style="stroke-width:0.9px">−</text>
<text transform="translate(1814.45,169.5) scale(1.0566,1.0000)" font-size="31.36">H</text>
<text transform="translate(1837.4,163.6) scale(1.3707,1.3000)" font-size="21.95" style="stroke-width:0.5px">+</text>
<text transform="translate(1863.24,169.5) scale(0.9987,1.0000)" font-size="31.36">ionization</text>
<text transform="translate(1747.82,216.2) scale(1.1510,1.0000)" font-size="31.36">C</text>
<text transform="translate(1770.04,210.6) scale(1.1553,1.2000)" font-size="21.95" style="stroke-width:0.5px">+</text>
<text transform="translate(1783.28,204.8) scale(1.2615,0.9200)" font-size="21.95">2</text>
<text transform="translate(1802.23,218.3) scale(1.1932,1.0000)" font-size="31.36" style="stroke-width:0.9px">−</text>
<text transform="translate(1827.98,216.2) scale(1.1063,1.0000)" font-size="31.36">C</text>
<text transform="translate(1850.15,210.6) scale(1.1455,1.2000)" font-size="21.95" style="stroke-width:0.5px">+</text>
<text transform="translate(1863.49,204.8) scale(1.0588,0.9200)" font-size="21.95">3</text>
<text transform="translate(1885.94,216.2) scale(0.9995,1.0000)" font-size="31.36">ionization</text>
<text transform="translate(171.94,781.2) scale(0.9470,1.0250)" font-size="39.2">13</text>
<text transform="translate(405.14,781.2) scale(0.9470,1.0250)" font-size="39.2">15</text>
<text transform="translate(638.34,781.2) scale(0.9470,1.0250)" font-size="39.2">17</text>
<text transform="translate(871.54,781.2) scale(0.9470,1.0250)" font-size="39.2">19</text>
<text transform="translate(56.54,752.6) scale(0.9779,1.0250)" font-size="39.2">10</text>
<text transform="translate(95.2,729.1) scale(1.0399,1.0250)" font-size="27.44">42</text>
<text transform="translate(56.54,574.9) scale(0.9779,1.0250)" font-size="39.2">10</text>
<text transform="translate(95.21,551.4) scale(1.0221,1.0250)" font-size="27.44">43</text>
<text transform="translate(56.54,397.2) scale(0.9779,1.0250)" font-size="39.2">10</text>
<text transform="translate(95.22,373.7) scale(0.9973,1.0250)" font-size="27.44">44</text>
<text transform="translate(56.54,219.5) scale(0.9779,1.0250)" font-size="39.2">10</text>
<text transform="translate(95.21,196) scale(1.0221,1.0250)" font-size="27.44">45</text>
<text transform="translate(56.54,41.8) scale(0.9779,1.0250)" font-size="39.2">10</text>
<text transform="translate(95.21,18.3) scale(1.0121,1.0250)" font-size="27.44">46</text>
<text transform="translate(1206.64,781.2) scale(0.9470,1.0250)" font-size="39.2">13</text>
<text transform="translate(1439.84,781.2) scale(0.9470,1.0250)" font-size="39.2">15</text>
<text transform="translate(1673.04,781.2) scale(0.9470,1.0250)" font-size="39.2">17</text>
<text transform="translate(1906.24,781.2) scale(0.9470,1.0250)" font-size="39.2">19</text>
<text transform="translate(1091.04,626.1) scale(0.9779,1.0250)" font-size="39.2">10</text>
<text transform="translate(1129.72,602.6) scale(0.9973,1.0250)" font-size="27.44">44</text>
<text transform="translate(1091.04,447.3) scale(0.9779,1.0250)" font-size="39.2">10</text>
<text transform="translate(1129.71,423.8) scale(1.0221,1.0250)" font-size="27.44">45</text>
<text transform="translate(1091.04,268.5) scale(0.9779,1.0250)" font-size="39.2">10</text>
<text transform="translate(1129.71,245) scale(1.0121,1.0250)" font-size="27.44">46</text>
<text transform="translate(1091.04,89.7) scale(0.9779,1.0250)" font-size="39.2">10</text>
<text transform="translate(1129.71,66.2) scale(1.0111,1.0250)" font-size="27.44">47</text>
</svg>
</body></html>
